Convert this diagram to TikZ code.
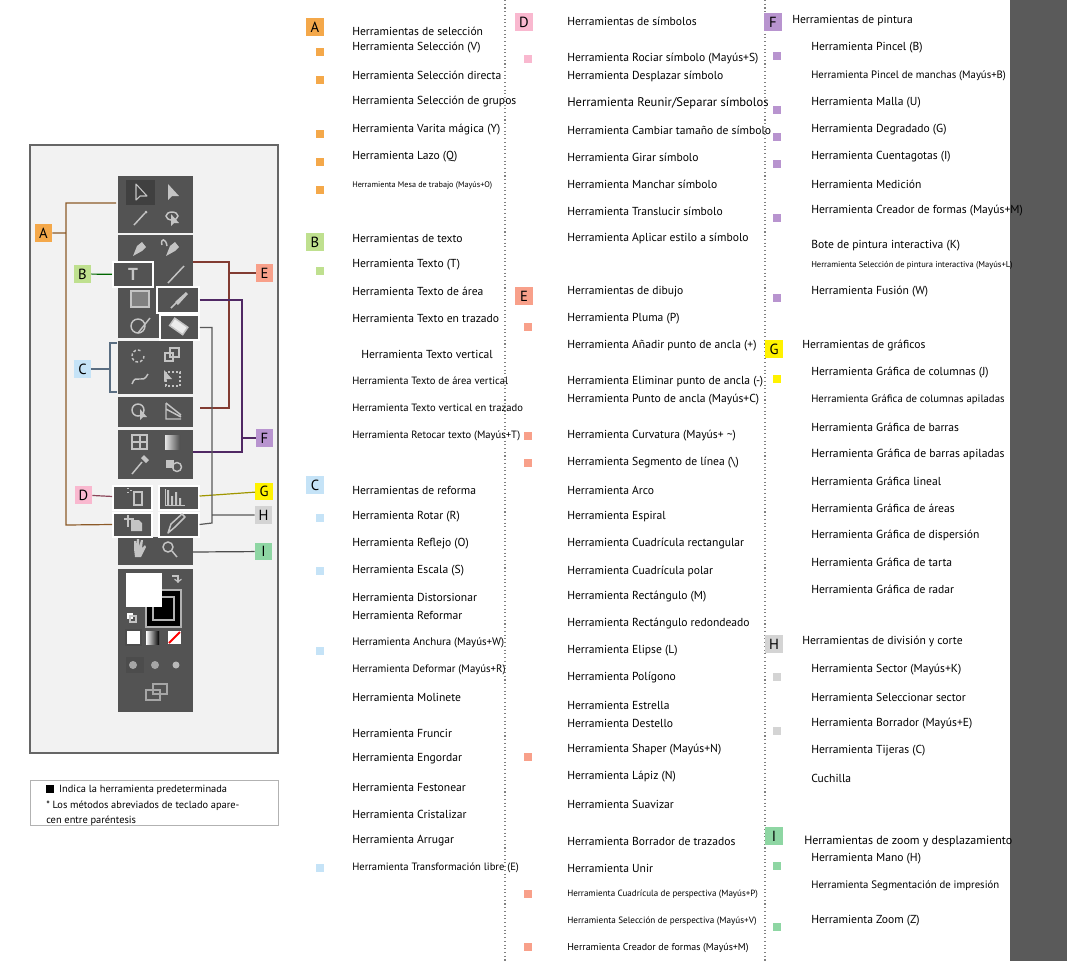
\documentclass[tikz,border=0pt]{standalone}
\usepackage{fontspec}
\setmainfont{PT Sans}
\newcommand\fw[2]{\resizebox{#1pt}{!}{#2}}
\begin{document}
\begin{tikzpicture}[x=0.75pt,y=-0.75pt,
 it/.style={anchor=west,inner sep=0pt,font=\fontsize{8.7}{9}\selectfont},
 sm/.style={anchor=west,inner sep=0pt,font=\fontsize{8}{9}\selectfont},
 hd/.style={anchor=west,inner sep=0pt,font=\fontsize{8.7}{9}\selectfont},
 bul/.style={minimum size=6pt,inner sep=0pt},
 lab/.style={minimum width=13pt,minimum height=13pt,inner sep=0pt,font=\fontsize{11}{12}\selectfont},
 wbox/.style={fill=tb,draw=white,line width=1.5pt},
 ic/.style={draw=icg,line width=1.1pt},
 icf/.style={fill=icg},
 con/.style={line width=0.9pt}]
\definecolor{cA}{HTML}{F4A84A}\definecolor{cB}{HTML}{BFE08F}\definecolor{cC}{HTML}{C5E3F7}
\definecolor{cD}{HTML}{F9B8CF}\definecolor{cE}{HTML}{F8A08A}\definecolor{cF}{HTML}{B894CF}
\definecolor{cG}{HTML}{FFF200}\definecolor{cH}{HTML}{D4D4D4}\definecolor{cI}{HTML}{8ED6A3}
\definecolor{tb}{HTML}{535353}\definecolor{side}{HTML}{5A5A5A}\definecolor{icg}{HTML}{C4C4C4}
\useasboundingbox (0,0) rectangle (1067,961);
\fill[white] (0,0) rectangle (1067,961);
\fill[side] (1010,0) rectangle (1067,961);
\draw[gray,dotted,line width=0.8pt] (505,0) -- (505,961) (765,0) -- (765,961);
% panel
\draw[fill={rgb,255:red,242;green,242;blue,242},draw=gray!80!black,line width=0.8pt] (30,145) rectangle (278,753);
% toolbar segments
\fill[tb] (118,176) rectangle (193,233);
\fill[black!75] (126,180) rectangle (155,205);
\fill[tb] (118,235) rectangle (193,338);
\fill[tb] (118,341) rectangle (193,394);
\fill[tb] (118,397) rectangle (193,427);
\fill[tb] (118,430) rectangle (193,479);
\fill[tb] (118,537) rectangle (193,565);
\fill[tb] (118,569) rectangle (193,712);
\node[wbox,minimum width=30pt,minimum height=19pt] (tT) at (133,274.5) {};
\node[wbox,minimum width=31pt,minimum height=19pt] (tBr) at (178,300) {};
\node[wbox,minimum width=29pt,minimum height=19pt] (tEr) at (179.5,327.5) {};
\node[wbox,minimum width=29pt,minimum height=18pt] (tD) at (132.5,497.5) {};
\node[wbox,minimum width=29pt,minimum height=18pt] (tAB) at (132.5,524.5) {};
\node[wbox,minimum width=30pt,minimum height=18pt] (tG) at (178.5,497.5) {};
\node[wbox,minimum width=30pt,minimum height=18pt] (tH) at (178.5,524.5) {};
\node[font=\fontsize{13}{13}\selectfont\bfseries,text=icg] at (133,274) {T};
% toolbar icons (simplified)
\draw[ic,line width=0.8pt,line join=round] (136,184) -- (136,200) -- (140,196) -- (147,196) -- cycle;
\fill[icg] (168,184) -- (168,200) -- (172,196) -- (179,196) -- cycle;
\draw[ic] (134,225) -- (145,213); \fill[icg] (146,212) circle (1.5);
\draw[ic] (172,216) ellipse (6 and 4); \fill[icg] (171,214) -- (171,226) -- (174,223) -- (179,223) -- cycle;
\fill[icg] (133,256) -- (137,246) -- (142,242) -- (146,247) -- (142,251) -- cycle;
\fill[icg] (166,256) -- (170,246) -- (175,242) -- (179,247) -- (175,251) -- cycle;
\draw[ic] (162,245) .. controls (160,238) and (166,238) .. (167,246);
\draw[ic] (168,283) -- (184,266);
\draw[ic,fill=gray] (131,291) rectangle (149,307);
\draw[ic] (138,326) circle (7); \draw[ic] (138,333) -- (150,318);
\draw[ic] (171,308) -- (176,303); \fill[icg] (175,302) -- (186,292) -- (188,294) -- (178,305) -- cycle;
\draw[ic,fill=white!85!gray,rotate around={-35:(179,326)}] (171,322) rectangle (187,331);
\draw[ic,dash pattern=on 2pt off 1.5pt] (144,356) arc (0:300:6);
\draw[ic] (165,353) rectangle (173,361) (170,348) rectangle (179,357);
\draw[ic] (132,384) .. controls (136,372) and (142,386) .. (148,374);
\draw[ic,dash pattern=on 1.5pt off 1.5pt] (166,372) rectangle (180,386); \fill[icg] (164,370) -- (164,382) -- (167,379) -- (172,379) -- cycle;
\draw[ic] (138,410) circle (6); \fill[icg] (140,409) -- (140,420) -- (143,417) -- (147,417) -- cycle;
\draw[ic] (166,403) -- (166,419) -- (181,419) (166,403) -- (181,415) (166,409) -- (181,417);
\draw[ic] (132,435) rectangle (147,449) (132,442) -- (147,442) (140,435) -- (140,449);
\shade[left color=white!80!gray,right color=black!70] (165,435) rectangle (180,449);
\draw[ic] (132,474) -- (142,462); \fill[icg] (141,458) -- (146,463) -- (149,460) -- (144,455) -- cycle;
\fill[icg] (166,460) rectangle (174,468); \draw[ic] (177,467) circle (4.5);
\draw[ic] (128,492) -- (128,493) (131,490) -- (131,491) (128,488) -- (128,489);
\draw[ic] (134,492) rectangle (142,505);
\draw[ic] (124,519) -- (134,519) (128,515) -- (128,527); \fill[icg] (131,520) -- (139,520) -- (142,523) -- (142,531) -- (131,531) -- cycle;
\fill[icg] (167,490) rectangle (169,505) (171,496) rectangle (173,505) (175,492) rectangle (177,505) (179,498) rectangle (181,505); \draw[ic,line width=0.6pt] (165,489) -- (165,505) -- (185,505);
\draw[ic,line join=round] (168,533) -- (171,524) -- (182,514) -- (185,517) -- (175,527) -- cycle;
\fill[icg] (134,549) -- (134,541) -- (136,541) -- (136,547) -- (137,539) -- (139,539) -- (139,547) -- (141,540) -- (143,540) -- (142,548) -- (145,545) -- (146,547) -- (141,557) -- (135,557) -- cycle;
\draw[ic] (168,547) circle (5); \draw[ic] (172,551) -- (177,557);
% colour area
\fill[black] (146,590) rectangle (181,627);
\draw[gray!60,line width=0.8pt] (146,590) rectangle (181,627) (153,597) rectangle (174,620);
\fill[white] (126,573) rectangle (162,607);
\draw[ic,->] (172,576) -- (178,576) -- (178,583);
\fill[white] (127,613) rectangle (133,619); \draw[ic,line width=0.8pt] (130,616) rectangle (136,622);
\fill[black!70] (125,629) rectangle (142,646);
\fill[white] (127,631) rectangle (140,644);
\shade[left color=white,right color=black] (146,631) rectangle (159,644);
\fill[white] (168,631) rectangle (181,644);
\draw[red,line width=1.5pt] (169,643) -- (180,632);
\fill[black!70] (126,657) rectangle (144,673);
\fill[gray!70] (133,665) circle (4);
\fill[gray!70] (155,665) circle (4);
\fill[gray!55] (176,665) circle (3.5);
\draw[gray!70,line width=1pt] (146,690) rectangle (160,700) (153,684) rectangle (167,694);
% labels & connectors
\node[lab,fill=cA] (LA) at (43.5,233) {A};
\draw[con,color={rgb,255:red,140;green,90;blue,40}] (LA.east) -- (66,233) (116,203) -| (66,525) -- (tAB.west);
\node[lab,fill=cB] (LB) at (82.5,274) {B};
\draw[con,color=green!40!black] (LB) -- (tT);
\node[lab,fill=cC] (LC) at (82.5,369) {C};
\draw[con,color={rgb,255:red,90;green,110;blue,130}] (LC) -- (110,369) (117,343) -- (110,343) -- (110,392) -- (117,392);
\node[lab,fill=cE] (LE) at (264.5,273) {E};
\draw[con,color={rgb,255:red,130;green,60;blue,50}] (LE) -- (229,273) (193,262) -| (229,408) -- (200,408);
\node[lab,fill=cF] (LF) at (264.5,438) {F};
\draw[con,color={rgb,255:red,80;green,40;blue,100}] (LF) -- (242,438) (tBr.east) -| (242,452) -- (193,452);
\node[lab,fill=cD] (LD) at (83.5,495) {D};
\draw[con,color={rgb,255:red,140;green,70;blue,90}] (LD) -- (tD);
\node[lab,fill=cG] (LG) at (264,491.5) {G};
\draw[con,color={rgb,255:red,160;green,150;blue,0}] (tG) -- (LG);
\node[lab,fill=cH] (LH) at (263.5,515) {H};
\draw[con,color=black!65] (tEr.east) -| (212,523) -- (tH.east) (212,515) -- (LH);
\node[lab,fill=cI] (LI) at (263.5,551.5) {I};
\draw[con,color=black!70] (193,552) -- (LI);
% legend
\draw[gray!60,line width=0.6pt] (30,780) rectangle (278,825);
\node[it,font=\fontsize{7.8}{9}\selectfont] (lg1) at (46,790) {\rule{5.5pt}{5.5pt}\ \ Indica la herramienta predeterminada};
\node[it,font=\fontsize{7.8}{9}\selectfont] (lg2) at (46,806) {* Los métodos abreviados de teclado apare-};
\node[it,font=\fontsize{7.8}{9}\selectfont] (lg3) at (46,821) {cen entre paréntesis};
% ---------- column 1
\node[lab,fill=cA] (hA) at (315,27) {A}; \node[hd] (tA) at (352,31) {Herramientas de selección};
\node[lab,fill=cB] (hB) at (315,242) {B}; \node[hd] (tB) at (352,238) {Herramientas de texto};
\node[lab,fill=cC] (hC) at (315,485) {C}; \node[hd] (tC) at (352,490) {Herramientas de reforma};
\foreach \y/\t [count=\i] in {48/Herramienta Selección (V),75/Herramienta Selección directa,102/Herramienta Selección de grupos,130/Herramienta Varita mágica (Y),157/Herramienta Lazo (Q),
265/Herramienta Texto (T),291/Herramienta Texto de área,318/Herramienta Texto en trazado,
517/Herramienta Rotar (R),544/Herramienta Reflejo (O),571/Herramienta Escala (S),597/Herramienta Distorsionar,615/Herramienta Reformar,697/Herramienta Molinete,733/Herramienta Fruncir,759/Herramienta Engordar,787/Herramienta Festonear,814/Herramienta Cristalizar,841/Herramienta Arrugar}
 \node[it] (a\i) at (352,\y) {\t};
\node[it] (a20) at (361,354) {Herramienta Texto vertical};
\foreach \y/\w/\t [count=\i] in {185/105/Herramienta Mesa de trabajo (Mayús+O),381/117/Herramienta Texto de área vertical,408/128/Herramienta Texto vertical en trazado,436/126/Herramienta Retocar texto (Mayús+T),643/114/Herramienta Anchura (Mayús+W),670/115/Herramienta Deformar (Mayús+R),868/125/Herramienta Transformación libre (E)}
 \node[sm] (as\i) at (352,\y) {\fw{\w}{\t}};
\foreach \y/\c [count=\i] in {52/cA,80/cA,134/cA,162/cA,190/cA,271/cB,518/cC,571/cC,651/cC,868/cC}
 \node[bul,fill=\c] (ab\i) at (320,\y) {};
% ---------- column 2
\node[lab,fill=cD] (hD) at (524,22) {D}; \node[hd] (tD2) at (567,21) {Herramientas de símbolos};
\node[lab,fill=cE] (hE) at (524,296) {E}; \node[hd] (tE) at (567,292) {Herramientas de dibujo};
\foreach \y/\t [count=\i] in {59/Herramienta Rociar símbolo (Mayús+S),76/Herramienta Desplazar símbolo,130/Herramienta Cambiar tamaño de símbolo,157/Herramienta Girar símbolo,184/Herramienta Manchar símbolo,211/Herramienta Translucir símbolo,238/Herramienta Aplicar estilo a símbolo,
319/Herramienta Pluma (P),346/Herramienta Añadir punto de ancla (+),382/Herramienta Eliminar punto de ancla (-),400/Herramienta Punto de ancla (Mayús+C),436/Herramienta Curvatura (Mayús+ \textasciitilde),463/Herramienta Segmento de línea (\textbackslash),490/Herramienta Arco,517/Herramienta Espiral,544/Herramienta Cuadrícula rectangular,571/Herramienta Cuadrícula polar,597/Herramienta Rectángulo (M),624/Herramienta Rectángulo redondeado,651/Herramienta Elipse (L),678/Herramienta Polígono,705/Herramienta Estrella,723/Herramienta Destello,750/Herramienta Shaper (Mayús+N),777/Herramienta Lápiz (N),804/Herramienta Suavizar,841/Herramienta Borrador de trazados,868/Herramienta Unir}
 \node[it] (d\i) at (567,\y) {\t};
\foreach \y/\w/\t [count=\i] in {103/151/{Herramienta Reunir/Separar símbolos},894/143/Herramienta Cuadrícula de perspectiva (Mayús+P),921/142/Herramienta Selección de perspectiva (Mayús+V),948/136/Herramienta Creador de formas (Mayús+M)}
 \node[sm] (ds\i) at (567,\y) {\fw{\w}{\t}};
\foreach \y/\c [count=\i] in {59/cD,327/cE,436/cE,463/cE,757/cE,894/cE,947/cE}
 \node[bul,fill=\c] (db\i) at (528,\y) {};
% ---------- column 3
\node[lab,fill=cF] (hF) at (773,22) {F}; \node[hd] (tF) at (792,21) {Herramientas de pintura};
\node[lab,fill=cG] (hG) at (774,349) {G}; \node[hd] (tG2) at (802,346) {Herramientas de gráficos};
\node[lab,fill=cH] (hH) at (774,644) {H}; \node[hd] (tH2) at (802,642) {Herramientas de división y corte};
\node[lab,fill=cI] (hI) at (774,836) {I}; \node[sm] (tI2) at (804,841) {\fw{156}{Herramientas de zoom y desplazamiento}};
\foreach \y/\t [count=\i] in {48/Herramienta Pincel (B),103/Herramienta Malla (U),130/Herramienta Degradado (G),157/Herramienta Cuentagotas (I),184/Herramienta Medición,211/Herramienta Creador de formas (Mayús+M),292/Herramienta Fusión (W),
373/Herramienta Gráfica de columnas (J),427/Herramienta Gráfica de barras,481/Herramienta Gráfica lineal,508/Herramienta Gráfica de áreas,535/Herramienta Gráfica de dispersión,562/Herramienta Gráfica de tarta,589/Herramienta Gráfica de radar,
670/Herramienta Sector (Mayús+K),697/Herramienta Seleccionar sector,724/Herramienta Borrador (Mayús+E),751/Herramienta Tijeras (C),778/Cuchilla,859/Herramienta Mano (H),921/Herramienta Zoom (Z)}
 \node[it] (f\i) at (811,\y) {\t};
\node[it] (f30) at (811,246) {Bote de pintura interactiva (K)};
\foreach \y/\w/\t [count=\i] in {76/146/Herramienta Pincel de manchas (Mayús+B),265/151/Herramienta Selección de pintura interactiva (Mayús+L),400/145/Herramienta Gráfica de columnas apiladas,454/145/Herramienta Gráfica de barras apiladas,886/141/Herramienta Segmentación de impresión}
 \node[sm] (fs\i) at (811,\y) {\fw{\w}{\t}};
\foreach \y/\c [count=\i] in {56/cF,110/cF,137/cF,164/cF,218/cF,298/cF,379/cG,677/cH,731/cH,866/cI,927/cI}
 \node[bul,fill=\c] (fb\i) at (777,\y) {};
\end{tikzpicture}
\end{document}
